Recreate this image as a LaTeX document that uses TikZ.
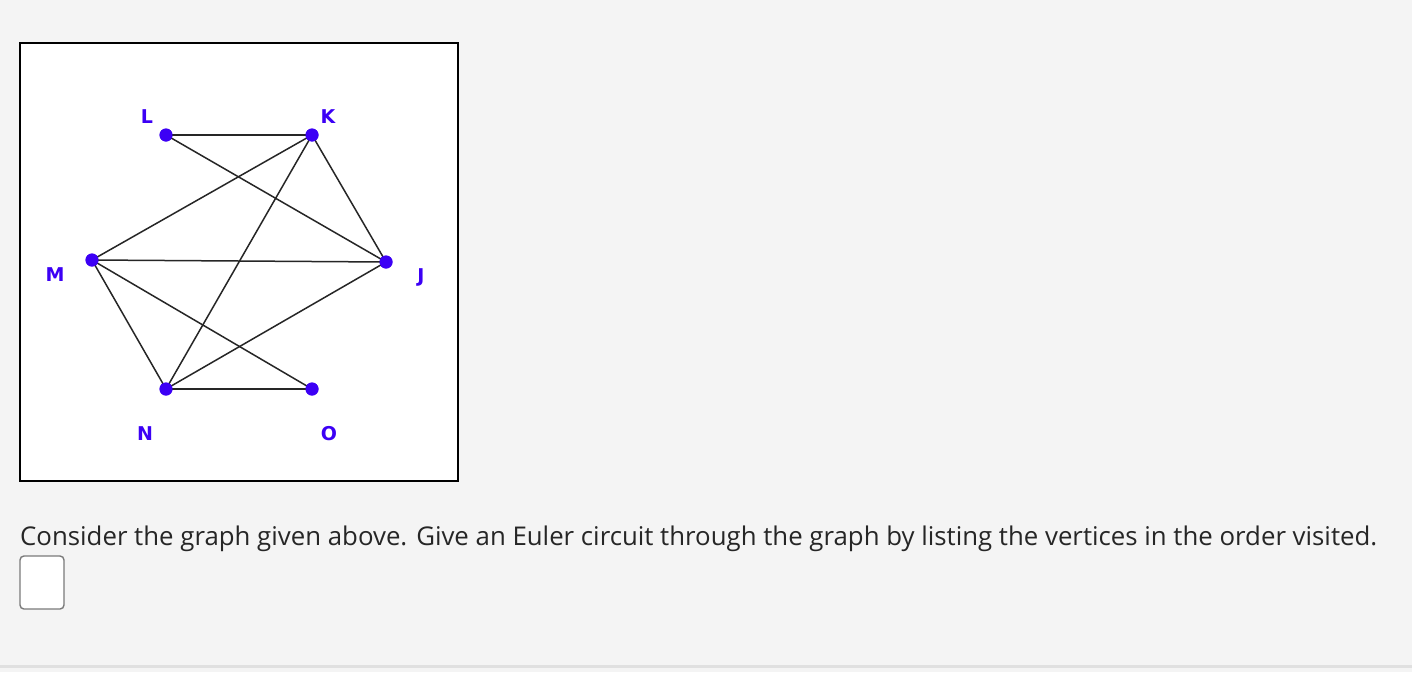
\documentclass[tikz,border=0pt]{standalone}
\usepackage{fontspec}
\setmainfont{Open Sans}
\newfontfamily\labfont{DejaVu Sans}
\definecolor{bg}{HTML}{F4F4F4}
\definecolor{vblue}{HTML}{3C00F5}
\definecolor{txt}{HTML}{262626}
\definecolor{inbord}{HTML}{7A7A7A}
\definecolor{rule}{HTML}{E0E0E0}
\begin{document}
\begin{tikzpicture}[x=1pt,y=-1pt,
  vertex/.style={circle,fill=vblue,inner sep=0pt,minimum size=13pt},
  vlabel/.style={text=vblue,font=\labfont\bfseries\fontsize{19}{19}\selectfont,inner sep=0pt},
  edge/.style={draw=black!85,line width=1.5pt}]
\useasboundingbox (0,0) rectangle (1412,672);
\fill[bg] (0,0) rectangle (1412,672);
\node[draw=black,line width=1.8pt,fill=white,minimum width=438pt,minimum height=438pt,inner sep=0pt] (frame) at (239,262) {};
\node[vertex] (L) at (166,135) {};
\node[vertex] (K) at (312,135) {};
\node[vertex] (M) at (92,260) {};
\node[vertex] (J) at (386,262) {};
\node[vertex] (N) at (166,389) {};
\node[vertex] (O) at (312,389) {};
\node[vlabel] (lL) at (147,117) {L};
\node[vlabel] (lK) at (328,117) {K};
\node[vlabel] (lM) at (55,275) {M};
\node[vlabel] (lJ) at (421,277) {J};
\node[vlabel] (lN) at (145,434) {N};
\node[vlabel] (lO) at (329,434) {O};
\draw[edge] (L.center) -- (K.center);
\draw[edge] (L.center) -- (J.center);
\draw[edge] (K.center) -- (M.center);
\draw[edge] (K.center) -- (N.center);
\draw[edge] (K.center) -- (J.center);
\draw[edge] (M.center) -- (J.center);
\draw[edge] (M.center) -- (N.center);
\draw[edge] (M.center) -- (O.center);
\draw[edge] (N.center) -- (J.center);
\draw[edge] (N.center) -- (O.center);
\foreach \v in {L,K,M,J,N,O} \fill[vblue] (\v) circle (6.5pt);
\node[anchor=base west,inner sep=0pt,text=txt,font=\fontsize{25.8}{25.8}\selectfont] (q) at (20,545) {Consider the graph given above. Give an Euler circuit through the graph by listing the vertices in the order visited.};
\node[draw=inbord,line width=1.4pt,fill=white,rounded corners=4pt,minimum width=44pt,minimum height=53pt,inner sep=0pt] (ans) at (42,582.5) {};
\fill[rule] (0,665) rectangle (1412,668);
\end{tikzpicture}
\end{document}
